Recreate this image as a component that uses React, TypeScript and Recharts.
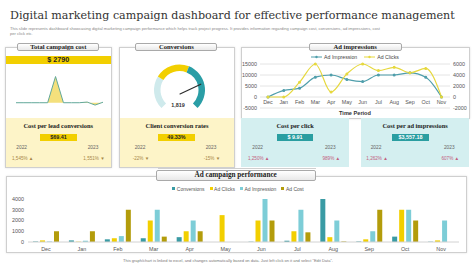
import React from "react";
import {
  AreaChart,
  Area,
  XAxis,
  YAxis,
  PieChart,
  Pie,
  Cell,
  LineChart,
  Line,
  CartesianGrid,
  BarChart,
  Bar,
} from "recharts";

const months = ["Dec", "Jan", "Feb", "Mar", "Apr", "May", "Jun", "Jul", "Aug", "Sep", "Oct", "Nov"];

// total campaign cost trend (small sparkline)
const campaignCost = [0, 0, 0, 0, 0, 2000, 0, 0, 0, 50, -180, 40];

// conversions gauge
const gaugeBands = [700, 730, 1030];
const gaugeColors = ["#cfeaec", "#f2cf00", "#2a9ea6"];
const conversionsTotal = 1819;

// ad impressions line chart
const adImpression = [0, 3000, 4000, 9000, 10000, 8000, 7000, 10000, 10000, 11000, 9000, 0];
const adClicksTrend = [0, 0, 2700, 6000, 900, 4200, 6000, 4800, 5400, 4400, 5200, 0];
const leftTicks = [-5000, 0, 5000, 10000, 15000];
const rightTicks = [-2000, 0, 2000, 4000, 6000];

// ad campaign performance bars
const conversions = [50, 150, 250, 350, 450, 0, 30, 120, 4000, 50, 500, 30];
const adClicks = [150, 30, 350, 2000, 1000, 2500, 2000, 1000, 450, 250, 3000, 150];
const adImpressions = [50, 120, 550, 3000, 2000, 0, 4000, 3000, 2000, 1000, 3000, 2000];
const adCost = [1000, 1000, 3000, 500, 1000, 0, 2000, 900, 50, 3000, 2000, 0];
const barTicks = [0, 1000, 2000, 3000, 4000];

const costData = months.map((m, i) => ({ month: m, cost: campaignCost[i] }));
const impressionData = months.map((m, i) => ({
  month: m,
  impression: adImpression[i],
  clicks: adClicksTrend[i],
}));
const campaignData = months.map((m, i) => ({
  month: m,
  conversions: conversions[i],
  clicks: adClicks[i],
  impression: adImpressions[i],
  cost: adCost[i],
}));
const gaugeData = gaugeBands.map((v) => ({ value: v }));
const gaugeMax = gaugeBands.reduce((a, b) => a + b, 0);
const needleData = [{ value: conversionsTotal }, { value: gaugeMax - conversionsTotal }];

const lineSeries = [
  { key: "impression", name: "Ad Impression", color: "#4f9eab", axis: "left" },
  { key: "clicks", name: "Ad Clicks", color: "#e6d83e", axis: "right" },
];
const barSeries = [
  { key: "conversions", name: "Conversions", color: "#3a9ba4" },
  { key: "clicks", name: "Ad Clicks", color: "#f2cf00" },
  { key: "impression", name: "Ad Impression", color: "#7dcdd7" },
  { key: "cost", name: "Ad Cost", color: "#b39c0b" },
];

const serif = "'DejaVu Serif', Georgia, serif";
const sans = "'Liberation Sans', Arial, sans-serif";

const abs = (left: number, top: number, width: number, height: number): React.CSSProperties => ({
  position: "absolute",
  left,
  top,
  width,
  height,
});

function Tab({ x, y, w, h, text, size = 6.6 }: { x: number; y: number; w: number; h: number; text: string; size?: number }) {
  return (
    <div
      style={{
        ...abs(x, y, w, h),
        boxSizing: "border-box",
        border: "1px solid #a9a9a9",
        borderRadius: 2,
        background: "linear-gradient(#ffffff, #e9e9e9)",
        fontFamily: "'Liberation Serif', serif",
        fontWeight: 700,
        fontSize: size,
        color: "#222",
        textAlign: "center",
        lineHeight: `${h - 2}px`,
        zIndex: 2,
      }}
    >
      {text}
    </div>
  );
}

function Centered({ cx, cy, children, style }: { cx: number; cy: number; children: React.ReactNode; style?: React.CSSProperties }) {
  return (
    <div
      style={{
        position: "absolute",
        left: cx - 60,
        top: cy - 5,
        width: 120,
        height: 10,
        lineHeight: "10px",
        textAlign: "center",
        whiteSpace: "nowrap",
        fontFamily: sans,
        ...style,
      }}
    >
      {children}
    </div>
  );
}

function KpiBlock({
  x, w, bg, title, value, valueBox, valueColor, y2022, y2023, p2022, p2023, pctColor,
}: {
  x: number; w: number; bg: string; title: string; value: string;
  valueBox: [number, number]; valueColor: string;
  y2022: number; y2023: number; p2022: string; p2023: string; pctColor: string;
}) {
  const mid = x + w / 2;
  return (
    <>
      <div style={{ ...abs(x, 118.3, w, 49), background: bg }} />
      <Centered cx={mid} cy={125.5} style={{ fontFamily: "'Liberation Serif', serif", fontWeight: 700, fontSize: 6.4, color: "#222" }}>
        {title}
      </Centered>
      <div
        style={{
          ...abs(valueBox[0], 134.2, valueBox[1] - valueBox[0], 6.6),
          background: bg === "#fdf4c8" ? "#f2cf00" : "#2a9ea1",
          color: valueColor,
          fontFamily: sans,
          fontWeight: 700,
          fontSize: 5.4,
          lineHeight: "6.6px",
          textAlign: "center",
        }}
      >
        {value}
      </div>
      <Centered cx={y2022} cy={148.3} style={{ fontSize: 4.8, color: "#666" }}>2022</Centered>
      <Centered cx={y2023} cy={148.3} style={{ fontSize: 4.8, color: "#666" }}>2023</Centered>
      <Centered cx={y2022 + 1} cy={159} style={{ fontSize: 4.6, color: pctColor }}>{p2022}</Centered>
      <Centered cx={y2023 + 1} cy={159} style={{ fontSize: 4.6, color: pctColor }}>{p2023}</Centered>
    </>
  );
}

const renderNeedle = (props: any) => {
  if (props.index !== 0) return <g />;
  const { cx, cy, endAngle, outerRadius } = props;
  const rad = (endAngle * Math.PI) / 180;
  const x2 = cx + outerRadius * Math.cos(rad);
  const y2 = cy - outerRadius * Math.sin(rad);
  return (
    <g>
      <line x1={cx} y1={cy} x2={x2} y2={y2} stroke="#2b2b2b" strokeWidth={1.1} strokeLinecap="round" />
    </g>
  );
};

const ImpressionTick = (props: any) => {
  const { x, y, payload } = props;
  return (
    <text x={x} y={y - 6} dy="0.35em" textAnchor="middle" fontSize={5.4} fill="#555">
      {payload.value}
    </text>
  );
};

export default function App() {
  const panelBorder: React.CSSProperties = {
    boxSizing: "border-box",
    border: "1px solid #cfcfcf",
    boxShadow: "0 0 2px rgba(0,0,0,0.12)",
    background: "#fff",
  };
  const axisTick = { fontSize: 5.4, fill: "#555" };

  return (
    <div style={{ position: "relative", width: 474, height: 266, background: "#fff", overflow: "hidden", fontFamily: sans }}>
      <style>{"body{margin:0}"}</style>

      {/* heading */}
      <div style={{ position: "absolute", left: 10, top: 9, fontFamily: serif, fontSize: 11.12, color: "#333", whiteSpace: "nowrap", lineHeight: "14px" }}>
        Digital marketing campaign dashboard for effective performance management
      </div>
      <div style={{ position: "absolute", left: 10, top: 27, width: 430, fontSize: 4.1, color: "#888", lineHeight: "4.6px", whiteSpace: "nowrap" }}>
        This slide represents dashboard showcasing digital marketing campaign performance which helps track project progress. It provides information regarding campaign cost, conversions, ad impressions, cost
        <br />
        per click etc.
      </div>

      {/* total campaign cost */}
      <div style={{ ...abs(5, 46.5, 106.5, 121), ...panelBorder }} />
      <Tab x={17.3} y={42.7} w={82} h={8.3} text="Total campaign cost" />
      <div style={{ ...abs(6, 55.7, 104.5, 8.6), background: "#f2cf00", fontWeight: 700, fontSize: 7.2, textAlign: "center", lineHeight: "8.6px", color: "#222" }}>
        $ 2790
      </div>
      <div style={{ ...abs(16, 70, 87, 36) }}>
        <AreaChart width={87} height={36} data={costData} margin={{ top: 0, right: 0, bottom: 0, left: 0 }}>
          <XAxis dataKey="month" hide />
          <YAxis hide domain={[-250, 2500]} />
          <Area type="linear" dataKey="cost" stroke="#62a89a" strokeWidth={1} fill="#f4e07c" fillOpacity={1} dot={false} isAnimationActive={false} />
        </AreaChart>
      </div>
      <KpiBlock
        x={6} w={104.5} bg="#fdf4c8" title="Cost per lead conversions" value="$69.41" valueBox={[40, 77]} valueColor="#222"
        y2022={21.7} y2023={93} p2022="1,545% ▲" p2023="1,551% ▼" pctColor="#a88848"
      />

      {/* conversions gauge */}
      <div style={{ ...abs(119, 46.5, 116, 121), ...panelBorder }} />
      <Tab x={135.3} y={42.7} w={82} h={8.3} text="Conversions" />
      <div style={{ ...abs(134, 55, 80, 60) }}>
        <PieChart width={80} height={60}>
          <Pie
            data={gaugeData} dataKey="value" cx={40.5} cy={30} startAngle={225} endAngle={-45}
            innerRadius={19} outerRadius={25.5} stroke="none" isAnimationActive={false}
          >
            {gaugeData.map((_, i) => (
              <Cell key={i} fill={gaugeColors[i]} />
            ))}
          </Pie>
          <Pie
            data={needleData} dataKey="value" cx={41} cy={34} startAngle={225} endAngle={-45}
            innerRadius={0} outerRadius={23} fill="none" stroke="none" isAnimationActive={false}
            label={renderNeedle} labelLine={false}
          >
            {needleData.map((_, i) => (
              <Cell key={i} fill="none" />
            ))}
          </Pie>
        </PieChart>
      </div>
      <Centered cx={178} cy={104.5} style={{ fontSize: 5.4, fontWeight: 700, color: "#333" }}>1,819</Centered>
      <KpiBlock
        x={120} w={114} bg="#fdf4c8" title="Client conversion rates" value="49.33%" valueBox={[158, 195]} valueColor="#222"
        y2022={140} y2023={211} p2022="-22% ▼" p2023="-15% ▼" pctColor="#a88848"
      />

      {/* ad impressions */}
      <div style={{ ...abs(241, 46.7, 228.5, 72), ...panelBorder }} />
      <Tab x={308.7} y={42.7} w={93} h={8.3} text="Ad impressions" />
      <div style={{ position: "absolute", left: 300, top: 54, width: 110, display: "flex", justifyContent: "center", gap: 7, fontSize: 5.2, color: "#444", lineHeight: "6px" }}>
        {lineSeries.map((s) => (
          <div key={s.key} style={{ display: "flex", alignItems: "center", gap: 2 }}>
            <svg width={11} height={6}>
              <line x1={0} y1={3} x2={11} y2={3} stroke={s.color} strokeWidth={1} />
              <circle cx={5.5} cy={3} r={1.2} fill={s.color} />
            </svg>
            <span>{s.name}</span>
          </div>
        ))}
      </div>
      <div style={{ ...abs(236, 52, 236, 68) }}>
        <LineChart width={236} height={68} data={impressionData} margin={{ top: 12, right: 0, bottom: 0, left: 0 }}>
          <CartesianGrid vertical={false} stroke="#e4e4e4" yAxisId="left" />
          <XAxis
            dataKey="month" height={12} axisLine={false} tickLine={false} tickSize={0} tickMargin={0}
            padding={{ left: 8, right: 8.5 }} interval={0} tick={<ImpressionTick />}
            label={{ value: "Time Period", position: "insideBottom", offset: 5.5, fontSize: 5.6, fontWeight: 700, fill: "#333" }}
          />
          <YAxis
            yAxisId="left" width={24} domain={[-5000, 15000]} ticks={leftTicks} axisLine={false} tickLine={false}
            tickSize={0} tickMargin={3} tick={axisTick} interval={0}
          />
          <YAxis
            yAxisId="right" orientation="right" width={22} domain={[-2000, 6000]} ticks={rightTicks} axisLine={false}
            tickLine={false} tickSize={0} tickMargin={3} tick={{ ...axisTick, textAnchor: "start" }} interval={0}
          />
          {lineSeries.map((s) => (
            <Line
              key={s.key} yAxisId={s.axis} type="monotone" dataKey={s.key} stroke={s.color} strokeWidth={1.2}
              dot={{ r: 0.9, fill: s.color, stroke: s.color }} isAnimationActive={false}
            />
          ))}
        </LineChart>
      </div>
      <KpiBlock
        x={241} w={108.3} bg="#d4eff0" title="Cost per click" value="$ 9.91" valueBox={[276.7, 313.3]} valueColor="#fff"
        y2022={257.7} y2023={330.3} p2022="1,250% ▲" p2023="989% ▲" pctColor="#c2607e"
      />
      <KpiBlock
        x={361} w={108.3} bg="#d4eff0" title="Cost per ad impressions" value="$3,557.18" valueBox={[391.7, 429.3]} valueColor="#fff"
        y2022={376} y2023={449.3} p2022="1,262% ▲" p2023="607% ▲" pctColor="#c2607e"
      />
      <div style={{ ...abs(158, 168, 158, 0.8), background: "#cfcfcf" }} />

      {/* ad campaign performance */}
      <div style={{ ...abs(6, 175.7, 461, 77.6), ...panelBorder }} />
      <Tab x={155.7} y={169.8} w={160} h={11} text="Ad campaign performance" size={7.2} />
      <div style={{ position: "absolute", left: 150, top: 185.7, width: 176, display: "flex", justifyContent: "center", gap: 5, fontSize: 5, color: "#555", lineHeight: "6px" }}>
        {barSeries.map((s) => (
          <div key={s.key} style={{ display: "flex", alignItems: "center", gap: 1.5 }}>
            <span style={{ display: "inline-block", width: 3, height: 3, background: s.color }} />
            <span>{s.name}</span>
          </div>
        ))}
      </div>
      <div style={{ ...abs(6, 190, 461, 66) }}>
        <BarChart width={461} height={66} data={campaignData} margin={{ top: 9, right: 8, bottom: 0, left: 0 }} barSize={5} barGap={2}>
          <XAxis
            dataKey="month" height={14} tickLine={false} axisLine={{ stroke: "#d2d2d2" }} tickSize={0} tickMargin={5}
            tick={axisTick} interval={0}
          />
          <YAxis
            width={22} domain={[0, 4000]} ticks={barTicks} axisLine={false} tickLine={false} tickSize={0} tickMargin={4}
            tick={axisTick} interval={0}
          />
          {barSeries.map((s) => (
            <Bar key={s.key} dataKey={s.key} fill={s.color} isAnimationActive={false} />
          ))}
        </BarChart>
      </div>
      <div style={{ position: "absolute", left: 0, top: 257.5, width: 456, textAlign: "center", fontSize: 4, color: "#777", whiteSpace: "nowrap" }}>
        This graph/chart is linked to excel, and changes automatically based on data. Just left click on it and select "Edit Data".
      </div>
    </div>
  );
}
